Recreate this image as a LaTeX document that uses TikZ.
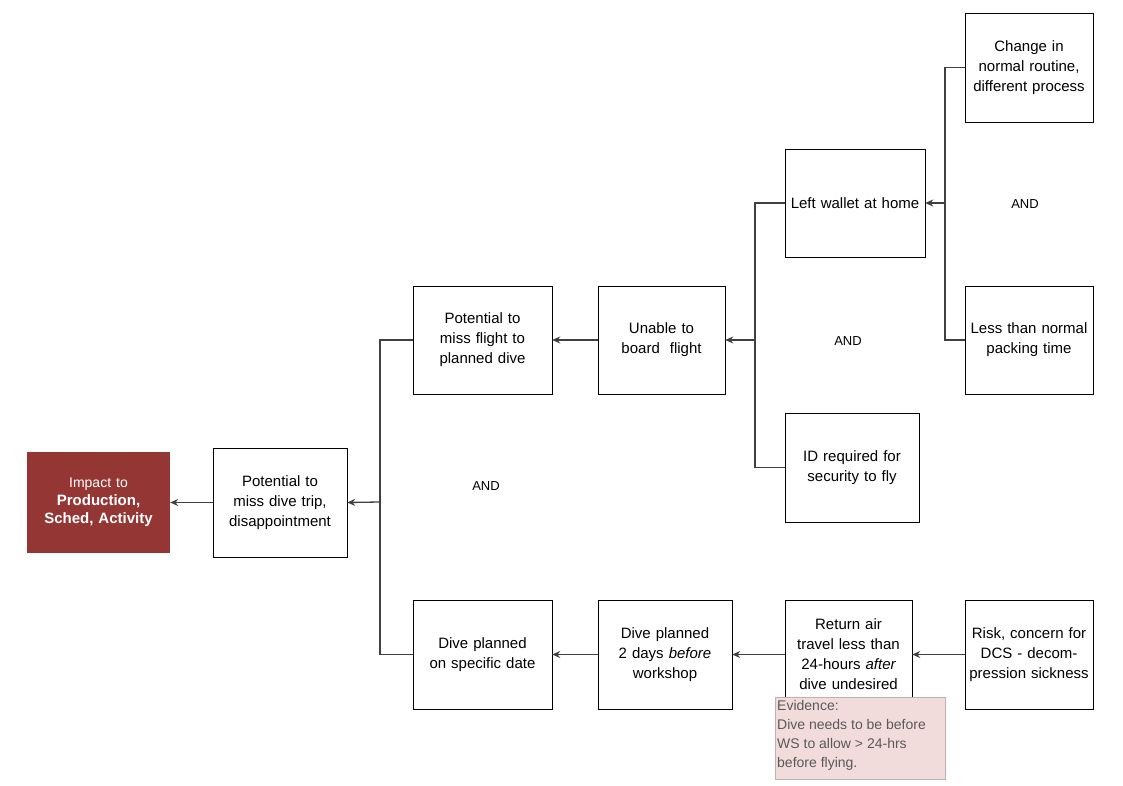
\documentclass[tikz,border=0pt]{standalone}
\usepackage{fontspec}
\setmainfont{Liberation Sans}
\usetikzlibrary{arrows.meta}
\definecolor{ln}{HTML}{404040}
\definecolor{imp}{HTML}{943634}
\definecolor{ev}{HTML}{F2DCDB}
\begin{document}
\begin{tikzpicture}[x=1pt,y=-1pt,
 box/.style={draw=black,fill=white,align=center,inner sep=0pt,font=\fontsize{15}{20}\selectfont},
 con/.style={draw=ln,line width=1.3pt,-{Stealth[length=8pt,width=7pt]}},
 lab/.style={font=\fontsize{13}{16}\selectfont}]
\useasboundingbox (0,0) rectangle (1123,786);
\newcommand\bx[7]{\node[box,minimum width=#4-#2,minimum height=#5-#3,text width=#4-#2-8,#6] (#1) at ({(#2+#4)/2},{(#3+#5)/2}) {#7};}
\bx{imp}{27}{452}{170}{553}{fill=imp,draw=none,text=white}{{\fontsize{14}{18}\selectfont Impact to}\\[-2pt]\textbf{Production,}\\[-2pt]\textbf{Sched, Activity}}
\bx{A}{213}{448}{347}{557}{}{Potential to miss dive trip, disappointment}
\bx{B}{413}{286}{552}{394}{}{Potential to miss flight to planned dive}
\bx{C}{598}{286}{725}{394}{}{Unable to board\ \ flight}
\bx{D}{785}{149}{925}{257}{}{Left wallet at home}
\bx{E}{965}{13}{1093}{122}{}{Change in normal routine, different process}
\bx{F}{965}{286}{1093}{394}{}{Less than normal packing time}
\bx{G}{785}{413}{919}{522}{}{ID required for security to fly}
\bx{H}{413}{600}{552}{709}{}{Dive planned on specific date}
\bx{I}{598}{600}{732}{709}{}{Dive planned 2 days \textit{before} workshop}
\bx{J}{785}{600}{912}{709}{}{Return air travel less than 24-hours \textit{after} dive undesired}
\bx{K}{965}{600}{1093}{709}{}{Risk, concern for DCS - decompression sickness}
\node[fill=ev,draw=ev!80!black,minimum width=170,minimum height=82,inner sep=0pt] (ev) at (860,738) {};
\node[anchor=north west,align=left,text=black!65,font=\fontsize{14}{19}\selectfont,inner sep=0pt] (evt) at (777,700) {Evidence:\\Dive needs to be before\\WS to allow > 24-hrs\\before flying.};
\node[lab] (and1) at (486,486) {AND};
\node[lab] (and2) at (848,341) {AND};
\node[lab] (and3) at (1025,204) {AND};
\coordinate (j1) at (380,502);
\coordinate (j2) at (755,340);
\coordinate (j3) at (945,203);
\draw[draw=ln,line width=1.3pt] (B.west) -| (j1) |- (H.west);
\draw[con] (j1) -- (A.east);
\draw[con] (A.west) -- (imp.east);
\draw[con] (C.west) -- (B.east);
\draw[draw=ln,line width=1.3pt] (D.west) -| (j2) |- (G.west);
\draw[con] (j2) -- (C.east);
\draw[draw=ln,line width=1.3pt] (E.west) -| (j3) |- (F.west);
\draw[con] (j3) -- (D.east);
\draw[con] (I.west) -- (H.east);
\draw[con] (J.west) -- (I.east);
\draw[con] (K.west) -- (J.east);
\end{tikzpicture}
\end{document}
